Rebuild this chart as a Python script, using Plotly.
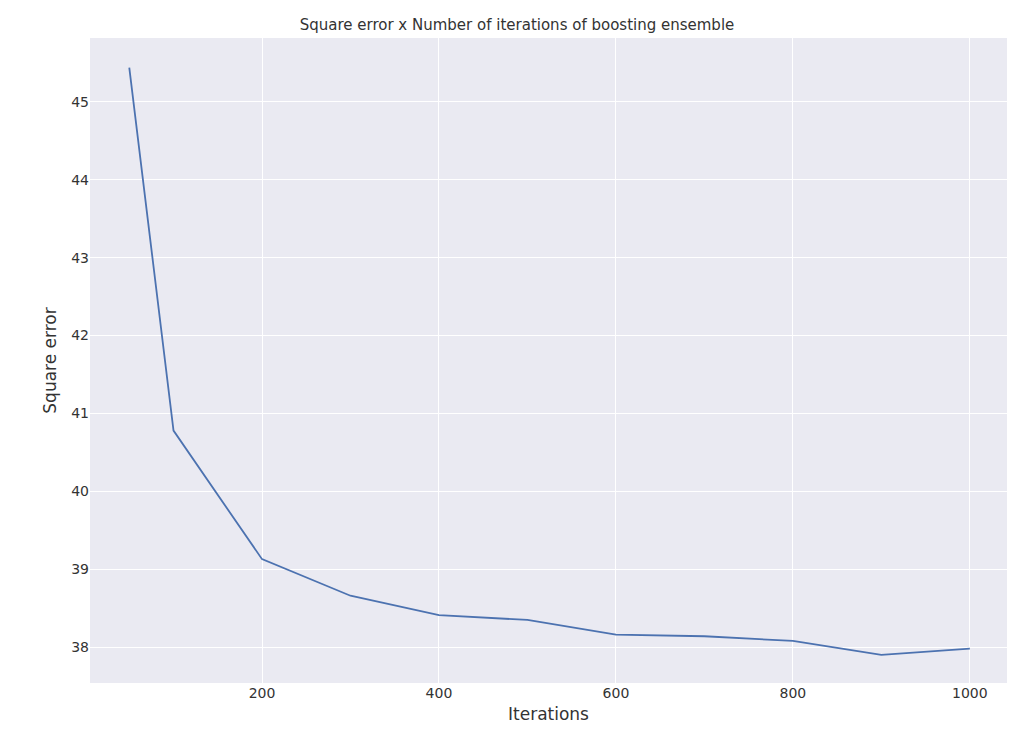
import plotly.graph_objects as go

# iterations of boosting ensemble vs square error
iterations = [50, 100, 200, 300, 400, 500, 600, 700, 800, 900, 1000]
square_error = [45.44, 40.78, 39.13, 38.66, 38.41, 38.35, 38.16, 38.14, 38.08, 37.90, 37.98]

fig = go.Figure()
fig.add_trace(go.Scatter(x=iterations, y=square_error, mode="lines",
                         line=dict(color="#4c72b0", width=1.8)))

fig.update_layout(
    width=1018, height=729,
    margin=dict(l=82, r=19, t=30, b=54),
    paper_bgcolor="white", plot_bgcolor="#eaeaf2",
    font=dict(family="DejaVu Sans", size=14, color="#333333"),
    title=dict(text="Square error x Number of iterations of boosting ensemble",
               x=0.5, xanchor="center", y=0.977, yanchor="middle",
               font=dict(size=15)),
    showlegend=False,
)
fig.update_xaxes(title_text="Iterations", range=[5.6, 1042], tickvals=[200, 400, 600, 800, 1000],
                 gridcolor="white", gridwidth=1.3, zeroline=False, ticks="", title_standoff=8)
fig.update_yaxes(title_text="Square error", range=[37.54, 45.82], dtick=1,
                 gridcolor="white", gridwidth=1.3, zeroline=False, ticks="", title_standoff=10)

fig.write_html("out.html")
